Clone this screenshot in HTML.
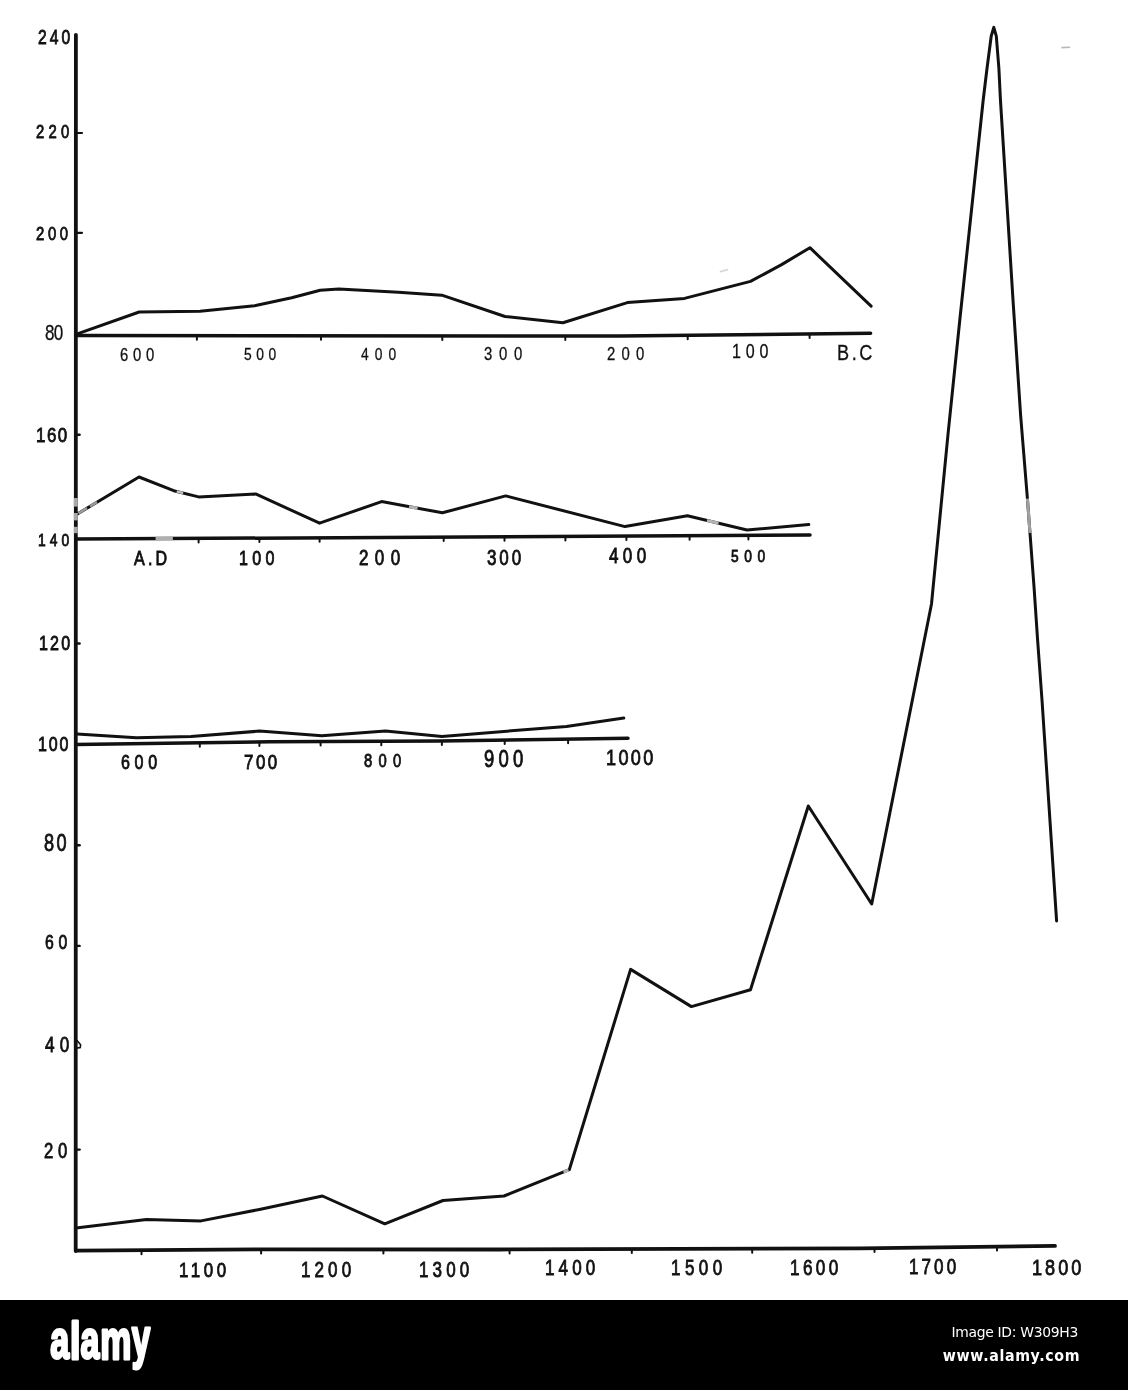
<!DOCTYPE html>
<html><head><meta charset="utf-8"><title>alamy W309H3</title>
<style>
html,body{margin:0;padding:0;background:#fff;}
body{width:1128px;height:1390px;position:relative;overflow:hidden;}
</style></head>
<body>
<svg width="1128" height="1390" viewBox="0 0 1128 1390" style="position:absolute;left:0;top:0;will-change:transform">
<rect x="0" y="0" width="1128" height="1300" fill="#fff"/>
<g fill="none" stroke="#111" stroke-linecap="round">
<path d="M75.9 34.8 L75.7 1251" stroke-width="3.8"/>
<path d="M76 335.6 L620 336 L870.6 333.3" stroke-width="3.5"/>
<path d="M76 539.1 L810 535.1" stroke-width="3.5"/>
<path d="M76 744.5 L270 741.8 L440 741 L628 738.3" stroke-width="3.5"/>
<path d="M76 1250.6 L260 1249.4 L500 1249.5 L860 1248.3 L1055 1245.9" stroke-width="3.8"/>
<path d="M78.0 333.6 L139.2 312.0 L200.0 311.3 L254.5 305.8 L291.7 297.7 L320.2 290.2 L338.8 289.0 L398.4 292.2 L441.8 295.2 L505.0 316.5 L562.9 322.7 L627.4 302.6 L684.5 298.4 L750.5 281.4 L781.6 264.6 L809.9 247.7 L871.1 306.2" stroke-width="3.0" stroke-linejoin="round"/>
<path d="M77.0 514.2 L139.0 477.0 L173.7 490.7 L198.6 496.9 L255.6 493.9 L319.6 523.2 L381.6 501.6 L442.4 512.8 L505.7 495.9 L625.0 526.6 L687.4 515.8 L747.0 530.0 L808.8 524.6" stroke-width="3.0" stroke-linejoin="round"/>
<path d="M77.0 734.1 L136.5 737.8 L191.1 736.6 L259.4 731.1 L321.7 735.7 L385.5 731.1 L441.9 736.4 L566.4 726.4 L623.8 718.1" stroke-width="3.0" stroke-linejoin="round"/>
<path d="M78.0 1227.8 L146.4 1219.6 L201.0 1220.9 L260.6 1209.2 L322.4 1196.0 L384.8 1223.8 L443.0 1200.5 L504.0 1196.0 L569.3 1169.7 L630.6 969.4 L691.4 1006.6 L750.5 989.7 L808.3 806.0 L871.7 904.0 L931.5 604.0 L947.9 435.4 L959.8 320.0 L983.2 100.0 L987.0 68.5 L991.2 36.2 L993.8 27.4 L996.3 36.2 L998.9 68.5 L1000.5 100.9 L1013.0 300.0 L1020.6 415.0 L1027.6 501.0 L1034.1 588.0 L1037.6 640.0 L1042.0 700.0 L1056.6 920.9" stroke-width="3.0" stroke-linejoin="round"/>
<path d="M75.82 498.00 L75.82 506.60" stroke="#a8a8a8" stroke-width="3.9" stroke-linecap="butt"/>
<path d="M75.82 513.00 L75.82 520.40" stroke="#a8a8a8" stroke-width="3.9" stroke-linecap="butt"/>
<path d="M75.82 526.80 L75.82 533.20" stroke="#a8a8a8" stroke-width="3.9" stroke-linecap="butt"/>
<path d="M155.60 538.67 L172.90 538.57" stroke="#b0b0b0" stroke-width="3.6" stroke-linecap="butt"/>
<path d="M78.50 513.30 L87.00 508.20" stroke="#9a9a9a" stroke-width="2.6" stroke-linecap="butt"/>
<path d="M90.00 506.40 L97.00 502.20" stroke="#9a9a9a" stroke-width="2.6" stroke-linecap="butt"/>
<path d="M176.70 491.45 L183.20 493.07" stroke="#bdbdbd" stroke-width="2.6" stroke-linecap="butt"/>
<path d="M409.00 506.65 L417.60 508.23" stroke="#b5b5b5" stroke-width="3.0" stroke-linecap="butt"/>
<path d="M707.00 520.47 L718.60 523.23" stroke="#b5b5b5" stroke-width="3.0" stroke-linecap="butt"/>
<path d="M563.50 1172.04 L568.50 1170.02" stroke="#b0b0b0" stroke-width="3.0" stroke-linecap="butt"/>
<path d="M1027.40 498.60 L1027.60 501.00 L1029.99 533.00" stroke="#a0a0a0" stroke-width="3.0" stroke-linecap="butt"/>
<path d="M1062 47.6 L1069.5 47.2" stroke="#b8b8b8" stroke-width="1.6"/>
<path d="M720.5 271.6 L727.5 269.6" stroke="#d8d8d8" stroke-width="1.8"/>
<path d="M77 133 L82 133" stroke-width="2.2"/>
<path d="M77 232.8 L82 232.8" stroke-width="2.2"/>
<path d="M77 434.8 L79.6 434.8" stroke-width="2.4"/>
<path d="M77 643.5 L79.6 643.5" stroke-width="2.4"/>
<path d="M77 845.2 L79.6 845.2" stroke-width="2.4"/>
<path d="M77 945.9 L79.6 945.9" stroke-width="2.4"/>
<path d="M77 1040.5 L80.6 1044.8 L80.2 1047.6 L77 1048" stroke-width="1.6" stroke-linejoin="round"/>
<path d="M77 1149.6 L79.6 1149.6" stroke-width="2.4"/>
<path d="M196.9 335.7 L196.9 339.7" stroke-width="2"/>
<path d="M321.0 335.8 L321.0 339.8" stroke-width="2"/>
<path d="M442.3 335.9 L442.3 339.9" stroke-width="2"/>
<path d="M565.3 336.0 L565.3 340.0" stroke-width="2"/>
<path d="M687.7 335.3 L687.7 339.3" stroke-width="2"/>
<path d="M809.6 334.0 L809.6 338.0" stroke-width="2"/>
<path d="M198.6 538.4 L198.6 542.4" stroke-width="2"/>
<path d="M259.4 538.1 L259.4 542.1" stroke-width="2"/>
<path d="M319.6 537.8 L319.6 541.8" stroke-width="2"/>
<path d="M443.7 537.1 L443.7 541.1" stroke-width="2"/>
<path d="M504.5 536.8 L504.5 540.8" stroke-width="2"/>
<path d="M565.4 536.4 L565.4 540.4" stroke-width="2"/>
<path d="M626.4 536.1 L626.4 540.1" stroke-width="2"/>
<path d="M689.6 535.8 L689.6 539.8" stroke-width="2"/>
<path d="M748.4 535.4 L748.4 539.4" stroke-width="2"/>
<path d="M199.8 742.8 L199.8 746.8" stroke-width="2"/>
<path d="M259.4 741.9 L259.4 745.9" stroke-width="2"/>
<path d="M320.6 741.6 L320.6 745.6" stroke-width="2"/>
<path d="M381.3 741.3 L381.3 745.3" stroke-width="2"/>
<path d="M441.9 741.0 L441.9 745.0" stroke-width="2"/>
<path d="M504.7 740.1 L504.7 744.1" stroke-width="2"/>
<path d="M568.1 739.2 L568.1 743.2" stroke-width="2"/>
<path d="M141.5 1250.2 L141.5 1254.2" stroke-width="2"/>
<path d="M261.1 1249.4 L261.1 1253.4" stroke-width="2"/>
<path d="M383.4 1249.5 L383.4 1253.5" stroke-width="2"/>
<path d="M509.6 1249.5 L509.6 1253.5" stroke-width="2"/>
<path d="M631.8 1249.1 L631.8 1253.1" stroke-width="2"/>
<path d="M752.2 1248.7 L752.2 1252.7" stroke-width="2"/>
<path d="M874.5 1248.1 L874.5 1252.1" stroke-width="2"/>
<path d="M997.0 1246.6 L997.0 1250.6" stroke-width="2"/>
</g>
<g fill="#111" stroke="#111" stroke-width="0.85" font-family="'Liberation Sans', sans-serif">
<text transform="translate(38.00 44.00) scale(0.8 1)" font-size="19.55" stroke-width="0.85" textLength="40.35" lengthAdjust="spacing">240</text>
<text transform="translate(36.00 138.00) scale(0.8 1)" font-size="18.58" stroke-width="0.85" textLength="41.62" lengthAdjust="spacing">220</text>
<text transform="translate(36.00 240.00) scale(0.8 1)" font-size="18.64" stroke-width="0.85" textLength="40.20" lengthAdjust="spacing">200</text>
<text transform="translate(45.00 340.00) scale(0.76 1)" font-size="22.45" stroke-width="0.3" textLength="24.09" lengthAdjust="spacing">80</text>
<text transform="translate(36.00 442.00) scale(0.8 1)" font-size="21.13" stroke-width="0.85" textLength="39.07" lengthAdjust="spacing">160</text>
<text transform="translate(38.00 546.00) scale(0.8 1)" font-size="17.29" stroke-width="0.85" textLength="38.96" lengthAdjust="spacing">140</text>
<text transform="translate(39.00 650.00) scale(0.8 1)" font-size="20.07" stroke-width="0.85" textLength="38.97" lengthAdjust="spacing">120</text>
<text transform="translate(38.00 751.00) scale(0.8 1)" font-size="20.00" stroke-width="0.85" textLength="38.03" lengthAdjust="spacing">100</text>
<text transform="translate(44.00 851.00) scale(0.76 1)" font-size="23.89" stroke-width="0.85" textLength="29.68" lengthAdjust="spacing">80</text>
<text transform="translate(45.00 949.00) scale(0.76 1)" font-size="20.80" stroke-width="0.85" textLength="29.39" lengthAdjust="spacing">60</text>
<text transform="translate(45.00 1052.00) scale(0.76 1)" font-size="22.57" stroke-width="0.85" textLength="31.82" lengthAdjust="spacing">40</text>
<text transform="translate(44.00 1158.00) scale(0.76 1)" font-size="21.95" stroke-width="0.85" textLength="30.70" lengthAdjust="spacing">20</text>
<text transform="translate(120.00 361.00) scale(0.8 1)" font-size="18.58" stroke-width="0.3" textLength="42.75" lengthAdjust="spacing">600</text>
<text transform="translate(244.00 360.00) scale(0.8 1)" font-size="17.29" stroke-width="0.3" textLength="40.38" lengthAdjust="spacing">500</text>
<text transform="translate(361.00 360.00) scale(0.8 1)" font-size="17.29" stroke-width="0.3" textLength="44.12" lengthAdjust="spacing">400</text>
<text transform="translate(484.00 360.00) scale(0.8 1)" font-size="18.64" stroke-width="0.3" textLength="47.86" lengthAdjust="spacing">300</text>
<text transform="translate(607.00 360.00) scale(0.8 1)" font-size="18.64" stroke-width="0.3" textLength="46.53" lengthAdjust="spacing">200</text>
<text transform="translate(732.00 358.00) scale(0.8 1)" font-size="20.07" stroke-width="0.3" textLength="45.47" lengthAdjust="spacing">100</text>
<text transform="translate(837.00 360.00) scale(0.8 1)" font-size="22.65" stroke-width="0.3" textLength="44.25" lengthAdjust="spacing">B.C</text>
<text transform="translate(134.00 565.00) scale(0.8 1)" font-size="20.07" stroke-width="0.85" textLength="41.42" lengthAdjust="spacing">A.D</text>
<text transform="translate(239.00 565.00) scale(0.8 1)" font-size="20.07" stroke-width="0.85" textLength="44.16" lengthAdjust="spacing">100</text>
<text transform="translate(359.00 565.00) scale(0.8 1)" font-size="21.28" stroke-width="0.85" textLength="51.49" lengthAdjust="spacing">200</text>
<text transform="translate(487.00 565.00) scale(0.8 1)" font-size="21.28" stroke-width="0.85" textLength="42.73" lengthAdjust="spacing">300</text>
<text transform="translate(609.00 563.00) scale(0.8 1)" font-size="21.28" stroke-width="0.85" textLength="46.50" lengthAdjust="spacing">400</text>
<text transform="translate(731.00 562.00) scale(0.8 1)" font-size="17.21" stroke-width="0.85" textLength="42.82" lengthAdjust="spacing">500</text>
<text transform="translate(121.00 769.00) scale(0.8 1)" font-size="20.07" stroke-width="0.85" textLength="45.22" lengthAdjust="spacing">600</text>
<text transform="translate(244.00 769.00) scale(0.8 1)" font-size="21.13" stroke-width="0.85" textLength="41.54" lengthAdjust="spacing">700</text>
<text transform="translate(364.00 767.00) scale(0.8 1)" font-size="18.48" stroke-width="0.85" textLength="46.51" lengthAdjust="spacing">800</text>
<text transform="translate(484.00 767.00) scale(0.8 1)" font-size="23.09" stroke-width="0.85" textLength="48.96" lengthAdjust="spacing">900</text>
<text transform="translate(606.00 765.00) scale(0.8 1)" font-size="22.60" stroke-width="0.85" textLength="59.12" lengthAdjust="spacing">1000</text>
<text transform="translate(179.00 1277.00) scale(0.8 1)" font-size="21.13" stroke-width="0.85" textLength="58.86" lengthAdjust="spacing">1100</text>
<text transform="translate(301.00 1277.00) scale(0.8 1)" font-size="21.28" stroke-width="0.85" textLength="62.64" lengthAdjust="spacing">1200</text>
<text transform="translate(419.00 1277.00) scale(0.8 1)" font-size="21.28" stroke-width="0.85" textLength="62.77" lengthAdjust="spacing">1300</text>
<text transform="translate(545.00 1275.00) scale(0.8 1)" font-size="21.27" stroke-width="0.85" textLength="62.79" lengthAdjust="spacing">1400</text>
<text transform="translate(671.00 1275.00) scale(0.8 1)" font-size="21.27" stroke-width="0.85" textLength="64.04" lengthAdjust="spacing">1500</text>
<text transform="translate(790.00 1275.00) scale(0.8 1)" font-size="21.45" stroke-width="0.85" textLength="60.27" lengthAdjust="spacing">1600</text>
<text transform="translate(909.00 1274.00) scale(0.8 1)" font-size="21.27" stroke-width="0.85" textLength="58.95" lengthAdjust="spacing">1700</text>
<text transform="translate(1032.00 1275.00) scale(0.8 1)" font-size="22.63" stroke-width="0.85" textLength="61.77" lengthAdjust="spacing">1800</text>
</g>
<rect x="0" y="1300" width="1128" height="90" fill="#000"/>
<g>
<text transform="scale(0.6 1)" font-family="'Liberation Sans',sans-serif" font-weight="bold" fill="#fff" stroke="#fff" stroke-width="3.0" stroke-linejoin="round"><tspan x="83.67" y="1358.30" font-size="54.17" textLength="31.55" lengthAdjust="spacingAndGlyphs">a</tspan><tspan x="116.50" y="1359.30" font-size="51.24" textLength="17.45" lengthAdjust="spacingAndGlyphs">l</tspan><tspan x="134.00" y="1358.30" font-size="54.40" textLength="31.43" lengthAdjust="spacingAndGlyphs">a</tspan><tspan x="167.00" y="1359.30" font-size="55.91" textLength="51.93" lengthAdjust="spacingAndGlyphs">m</tspan><tspan x="219.50" y="1356.70" font-size="54.96" textLength="30.87" lengthAdjust="spacingAndGlyphs">y</tspan></text>
<text transform="translate(951.40 1337.20) scale(1.0 1)" font-family="'DejaVu Sans',sans-serif" font-weight="normal" fill="#fff" font-size="13.92" textLength="127.00" lengthAdjust="spacing">Image ID: W309H3</text>
<text transform="translate(942.80 1361.10) scale(0.9 1)" font-family="'DejaVu Sans',sans-serif" font-weight="bold" fill="#fff" font-size="15.81" textLength="151.85" lengthAdjust="spacing">www.alamy.com</text>
</g>
</svg>
</body></html>
